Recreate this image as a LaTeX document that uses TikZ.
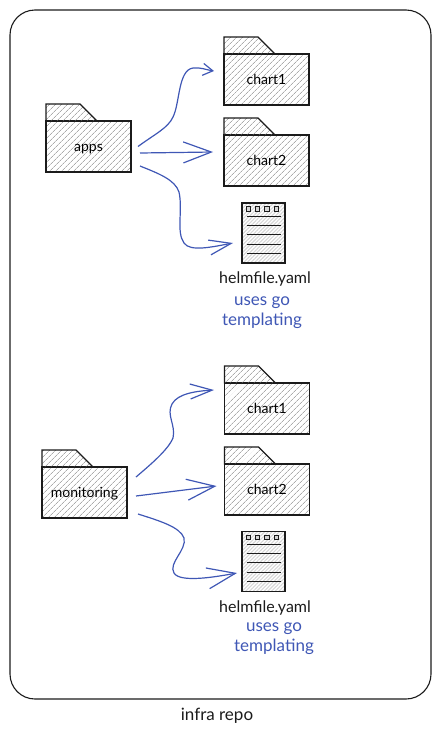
\documentclass[tikz,border=0pt]{standalone}
\usepackage{fontspec}
\usepackage{xcolor}
\usetikzlibrary{arrows.meta,patterns.meta}
\setmainfont{Lato}
\definecolor{inkblack}{HTML}{1B1B1B}
\definecolor{hatchgray}{HTML}{ABABAB}
\definecolor{dotgray}{HTML}{D6D6D6}
\definecolor{noteblue}{HTML}{3F57B5}
\tikzset{
  hatched/.style={pattern={Lines[angle=45,distance=4pt,line width=.8pt]},pattern color=hatchgray},
  folderbody/.style={draw=inkblack,line width=1.1pt,hatched,minimum width=85pt,minimum height=51pt,inner sep=0pt,outer sep=0pt,font=\fontsize{14}{16}\selectfont},
  foldertab/.style={draw=inkblack,line width=1.1pt,hatched},
  docbody/.style={draw=inkblack,line width=1.3pt,minimum width=43pt,minimum height=60pt,inner sep=0pt,outer sep=0pt,pattern={Lines[angle=45,distance=2.6pt,line width=1.1pt]},pattern color=dotgray},
  docline/.style={inkblack,line width=1pt},
  flow/.style={noteblue,line width=1.2pt},
  smalltip/.style={-{Straight Barb[length=10pt,width=12pt]}},
  midtip/.style={-{Straight Barb[length=22pt,width=15pt]}},
  bigtip/.style={-{Straight Barb[length=28pt,width=21pt]}},
  filelabel/.style={inkblack,font=\fontsize{16}{18}\selectfont},
  notelabel/.style={noteblue,align=center,font=\fontsize{17}{20}\selectfont},
}
\newcommand{\folderat}[4]{
  \node[folderbody] (#1) at (#2,#3) {\raisebox{-5pt}[0pt][0pt]{#4}};
  \draw[foldertab] (#1.north west) -- ++(0,-17) -- ++(34,0) -- ++(17,17) -- cycle;
}
\newcommand{\docat}[3]{
  \node[docbody] (#1) at (#2,#3) {};
  \foreach \dx in {-15,-6,3.5,13} \draw[docline,fill=dotgray] ([shift={(\dx,6)}]#1.north) ++(-2.3,-2.3) rectangle ++(4.6,4.6);
  \foreach \dy in {13,22,31,41,50} \draw[docline] ([shift={(-17,\dy)}]#1.north) -- ([shift={(17,\dy)}]#1.north);
}
\begin{document}
\begin{tikzpicture}[x=1pt,y=-1pt]
\useasboundingbox (0,0) rectangle (441,734);
\node[draw=inkblack,line width=1.1pt,rounded corners=25pt,minimum width=421pt,minimum height=689pt,inner sep=0pt] (repo) at (220.5,354.5) {};
\node[inkblack,font=\fontsize{17}{19}\selectfont] (repolabel) at (217,716) {infra repo};
\folderat{apps}{88.5}{146.5}{apps}
\folderat{chartA}{266.5}{79.5}{chart1}
\folderat{chartB}{266.5}{160.5}{chart2}
\docat{helmA}{263.5}{233}
\node[filelabel] (helmAname) at (265,279) {helmfile.yaml};
\node[notelabel] (helmAnote) at (262,312.5) {uses go\\templating};
\folderat{monitoring}{84.5}{492.5}{monitoring}
\folderat{chartC}{267}{408.5}{chart1}
\folderat{chartD}{267}{489.5}{chart2}
\docat{helmB}{263.5}{561.5}
\node[filelabel] (helmBname) at (265,608) {helmfile.yaml};
\node[notelabel] (helmBnote) at (274,638.5) {uses go\\templating};
\draw[flow,smalltip] ([shift={(7,0)}]apps.east) .. controls (155,134) and (168,128) .. (173,117) .. controls (180,103) and (178,70) .. (193,68) .. controls (200,67) and (207,70) .. ([shift={(-10,-8.5)}]chartA.west);
\draw[flow,bigtip] ([shift={(9,6.5)}]apps.east) -- ([shift={(-11,-8.5)}]chartB.west);
\draw[flow,midtip] ([shift={(9,19.5)}]apps.east) .. controls (160,174) and (175,180) .. (179,192) .. controls (183,210) and (176,232) .. (184,243) .. controls (190,252) and (212,247) .. ([shift={(-9,10)}]helmA.west);
\draw[flow,midtip] ([shift={(9,-15.5)}]monitoring.east) .. controls (150,465) and (168,450) .. (173,438) .. controls (176,425) and (166,415) .. (172,404) .. controls (178,393) and (198,391) .. ([shift={(-10.5,-18.5)}]chartC.west);
\draw[flow,bigtip] ([shift={(9,3.5)}]monitoring.east) -- ([shift={(-8,-3.5)}]chartD.west);
\draw[flow,bigtip] ([shift={(11,21.5)}]monitoring.east) .. controls (160,521) and (180,527) .. (184,538) .. controls (187,550) and (168,563) .. (174,573) .. controls (180,583) and (215,577) .. ([shift={(-5,11.5)}]helmB.west);
\end{tikzpicture}
\end{document}
